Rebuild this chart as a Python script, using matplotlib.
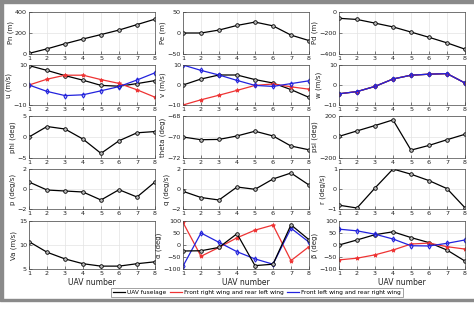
import matplotlib
matplotlib.use('Agg')
import matplotlib.pyplot as plt
from matplotlib.patches import Rectangle
from matplotlib.lines import Line2D

uav = [1, 2, 3, 4, 5, 6, 7, 8]

# positions
Pn = [6, 49, 98, 143, 185, 228, 280, 332]
Pe = [0, 0, 7, 18, 26, 17, -5, -18]
Pd = [-60, -71, -106, -142, -191, -241, -294, -354]

# body velocities, three wing configurations
u_fus = [9.7, 7.3, 4.7, 2.4, -0.2, -0.6, 0.7, 2.2]
u_frl = [0, 2.9, 4.9, 4.9, 2.7, 0.8, -2.4, -6.1]
u_flr = [0, -3.2, -5.3, -4.9, -2.9, -0.8, 2.5, 6.1]
v_fus = [0, 3.0, 5.0, 5.0, 2.7, 1.0, -2.3, -6.2]
v_frl = [-10, -7.4, -5.1, -2.7, -0.2, 0.5, -0.9, -2.1]
v_flr = [10, 7.3, 5.0, 2.3, -0.2, -0.7, 0.7, 2.1]
w_all = [-4.4, -3.3, -0.7, 3.0, 4.9, 5.4, 5.7, 1.0]

# attitude and rates
phi = [0, 2.5, 1.9, -0.5, -3.9, -0.9, 1.0, 1.3]
theta = [-70.0, -70.26, -70.23, -69.9, -69.45, -69.9, -70.86, -71.22]
psi = [6, 58, 109, 163, -125, -80, -26, 26]
p = [0.7, -0.1, -0.2, -0.3, -1.1, -0.07, -0.8, 0.7]
q = [-0.23, -0.85, -1.1, 0.2, -0.03, 1.0, 1.6, 0.4]
r = [-0.81, -0.95, 0.05, 1.0, 0.74, 0.42, 0.02, -0.94]

# airspeed and flow angles
Va = [10.7, 8.5, 7.1, 6.1, 5.6, 5.6, 6.1, 6.5]
alpha_fus = [-25, -24, -10, 47, -86, -80, 84, 22]
alpha_frl = [94, -47, -10, 30, 62, 83, -65, -7]
alpha_flr = [-88, 50, 11, -28, -58, -80, 70, 12]
beta_fus = [0, 21, 43, 55, 31, 10, -21, -67]
beta_frl = [-62, -55, -41, -21, 4, 8, -7, -17]
beta_flr = [66, 59, 45, 25, -3, -4, 7, 21]

labels = ['UAV fuselage', 'Front right wing and rear left wing',
          'Front left wing and rear right wing']

W, H = 474, 323
fig = plt.figure(figsize=(W / 100, H / 100), dpi=100)
fig.patch.set_facecolor('white')

cols = [29, 183, 339]
colw = 126
rows = [(12, 54), (65, 105), (116, 158), (169, 209), (221, 269)]


def mk_ax(i, j):
    t, b = rows[i]
    return fig.add_axes([cols[j] / W, 1 - b / H, colw / W, (b - t) / H])


def style(ax, ylab, ylim, yt, xlab=False):
    ax.set_xlim(1, 8)
    ax.set_ylim(*ylim)
    ax.set_xticks(uav)
    ax.set_yticks(yt)
    ax.grid(True, color='#e3e3e3', lw=0.5)
    ax.set_axisbelow(True)
    ax.tick_params(direction='in', labelsize=4.6, length=2, width=0.4,
                   pad=1.5, colors='#222222')
    for s in ax.spines.values():
        s.set_linewidth(0.5)
        s.set_color('#444444')
    ax.set_ylabel(ylab, fontsize=5, labelpad=1, color='#222222')
    if xlab:
        ax.set_xlabel('UAV number', fontsize=5.5, labelpad=1.5, color='#222222')


def line(ax, y, c):
    if c == 'k':
        ax.plot(uav, y, '-o', color='k', lw=0.9, ms=2.6, mfc='#bbbbbb',
                mew=0.6)
    elif c == 'r':
        ax.plot(uav, y, '-*', color='#ee3333', lw=0.9, ms=3, mew=0.6)
    else:
        ax.plot(uav, y, '-d', color='#2222dd', lw=0.9, ms=2.6, mfc='none',
                mew=0.8)


ax = mk_ax(0, 0); line(ax, Pn, 'k'); style(ax, 'Pn (m)', (0, 400), [0, 200, 400])
ax = mk_ax(0, 1); line(ax, Pe, 'k'); style(ax, 'Pe (m)', (-50, 50), [-50, 0, 50])
ax = mk_ax(0, 2); line(ax, Pd, 'k'); style(ax, 'Pd (m)', (-400, 0), [-400, -200, 0])

ax = mk_ax(1, 0)
line(ax, u_fus, 'k'); line(ax, u_frl, 'r'); line(ax, u_flr, 'b')
style(ax, 'u (m/s)', (-10, 10), [-10, 0, 10])
ax = mk_ax(1, 1)
line(ax, v_fus, 'k'); line(ax, v_frl, 'r'); line(ax, v_flr, 'b')
style(ax, 'v (m/s)', (-10, 10), [-10, 0, 10])
ax = mk_ax(1, 2)
line(ax, w_all, 'k'); line(ax, w_all, 'r'); line(ax, w_all, 'b')
style(ax, 'w (m/s)', (-10, 10), [-10, 0, 10])

ax = mk_ax(2, 0); line(ax, phi, 'k'); style(ax, 'phi (deg)', (-5, 5), [-5, 0, 5])
ax = mk_ax(2, 1); line(ax, theta, 'k'); style(ax, 'theta (deg)', (-72, -68), [-72, -70, -68])
ax = mk_ax(2, 2); line(ax, psi, 'k'); style(ax, 'psi (deg)', (-200, 200), [-200, 0, 200])

ax = mk_ax(3, 0); line(ax, p, 'k'); style(ax, 'p (deg/s)', (-2, 2), [-2, 0, 2])
ax = mk_ax(3, 1); line(ax, q, 'k'); style(ax, 'q (deg/s)', (-2, 2), [-2, 0, 2])
ax = mk_ax(3, 2); line(ax, r, 'k'); style(ax, 'r (deg/s)', (-1, 1), [-1, 0, 1])

ax = mk_ax(4, 0); line(ax, Va, 'k')
style(ax, 'Va (m/s)', (5, 15), [5, 10, 15], xlab=True)
ax = mk_ax(4, 1)
line(ax, alpha_frl, 'r'); line(ax, alpha_flr, 'b'); line(ax, alpha_fus, 'k')
style(ax, 'α (deg)', (-100, 100), [-100, -50, 0, 50, 100], xlab=True)
ax = mk_ax(4, 2)
line(ax, beta_fus, 'k'); line(ax, beta_frl, 'r'); line(ax, beta_flr, 'b')
style(ax, 'β (deg)', (-100, 100), [-100, -50, 0, 50, 100], xlab=True)

handles = [Line2D([], [], color='k', lw=0.9),
           Line2D([], [], color='#ee3333', lw=0.9),
           Line2D([], [], color='#2222dd', lw=0.9)]
leg = fig.legend(handles, labels, loc='center', ncol=3, fontsize=4.2,
                 bbox_to_anchor=(257 / W, 1 - 292.5 / H), frameon=True,
                 fancybox=False, handlelength=2.0, handletextpad=0.4,
                 columnspacing=0.6, borderpad=0.4)
leg.get_frame().set_edgecolor('#777777')
leg.get_frame().set_linewidth(0.6)

# page borders around the figure
grey = '#8a8a8a'
fig.patches.append(Rectangle((0, 1 - 3 / H), 1, 3 / H, transform=fig.transFigure,
                             color=grey, zorder=0))
fig.patches.append(Rectangle((0, 1 - 300 / H), 3 / W, 300 / H,
                             transform=fig.transFigure, color=grey, zorder=0))
fig.patches.append(Rectangle((0, 1 - 301 / H), 1, 2 / H,
                             transform=fig.transFigure, color=grey, zorder=0))

fig.savefig('out.png', dpi=100)
